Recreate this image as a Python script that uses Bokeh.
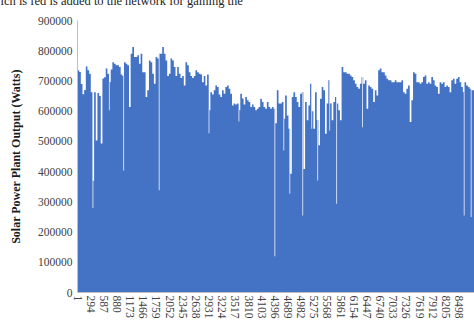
from bokeh.plotting import figure
from bokeh.models import Range1d, FixedTicker, NumeralTickFormatter, Label
from bokeh.embed import file_html
from bokeh.resources import INLINE

# Solar output, in kW (each value covers SEG_HOURS hours)
SEG_HOURS = 37
seg_values = [
    735, 730, 690, 656, 670, 748, 735, 724, 663, 370,
    663, 503, 660, 650, 493, 708, 712, 741, 724, 696,
    738, 762, 757, 752, 752, 746, 721, 716, 762, 757,
    752, 614, 790, 812, 779, 779, 785, 757, 790, 729,
    729, 647, 669, 768, 762, 724, 691, 779, 774, 790,
    790, 812, 790, 768, 716, 724, 774, 768, 746, 716,
    746, 724, 710, 716, 685, 762, 752, 729, 716, 710,
    716, 735, 729, 724, 721, 696, 716, 685, 721, 603,
    663, 655, 669, 685, 680, 655, 647, 669, 658, 680,
    685, 674, 658, 619, 625, 622, 625, 603, 658, 642,
    622, 647, 636, 630, 614, 622, 614, 603, 608, 614,
    641, 630, 614, 608, 630, 614, 608, 614, 608, 560,
    669, 625, 625, 630, 575, 652, 586, 542, 393, 647,
    663, 647, 630, 614, 658, 663, 409, 630, 570, 619,
    691, 600, 542, 663, 570, 487, 641, 680, 669, 525,
    625, 702, 625, 570, 630, 647, 625, 603, 570, 746,
    729, 729, 724, 724, 718, 713, 702, 691, 680, 674,
    691, 713, 691, 702, 608, 685, 680, 674, 630, 669,
    652, 735, 741, 729, 729, 718, 707, 702, 702, 696,
    696, 702, 696, 696, 696, 702, 663, 658, 674, 685,
    564, 636, 729, 724, 696, 696, 691, 696, 713, 718,
    691, 696, 691, 713, 702, 685, 680, 658, 696, 691,
    696, 680, 685, 680, 663, 702, 707, 691, 707, 713,
    696, 680, 663, 696, 685, 680, 674, 669, 669,
]
# single hours with low output (hour index, kW)
dip_hours = [344, 710, 1028, 1820, 2930, 3596, 4396, 4595, 4729, 5017, 5217, 5350, 5617, 5772, 6349, 8614, 8769]
dip_values = [280, 603, 404, 338, 527, 566, 120, 470, 327, 255, 542, 371, 536, 294, 547, 255, 250]

x_tick_labels = ["1", "294", "587", "880", "1173", "1466", "1759", "2052", "2345", "2638",
                 "2931", "3224", "3517", "3810", "4103", "4396", "4689", "4982", "5275", "5568",
                 "5861", "6154", "6447", "6740", "7033", "7326", "7619", "7912", "8205", "8498"]
y_ticks = [0, 100000, 200000, 300000, 400000, 500000, 600000, 700000, 800000, 900000]

BLUE = "#4472C4"
n = len(seg_values)
left = [0.5 + i * SEG_HOURS for i in range(n)]
top = [v * 1000 for v in seg_values]
step_x = left + [left[-1] + SEG_HOURS]
step_y = top + [top[-1]]

dip_top = []
for h in dip_hours:
    idx = min(int((h - 0.5) // SEG_HOURS), n - 1)
    dip_top.append(top[idx])

x_end = 0.5 + n * SEG_HOURS

p = figure(width=474, height=323, output_backend="svg", toolbar_location=None,
           x_range=Range1d(0.5, x_end), y_range=Range1d(0, 900000),
           min_border_left=77, min_border_right=0, min_border_top=20, min_border_bottom=31)
p.outline_line_color = None
p.xgrid.visible = False
p.ygrid.visible = False
p.background_fill_color = "white"
p.border_fill_color = "white"

p.varea_step(x=step_x, y1=0, y2=step_y, step_mode="after", fill_color=BLUE)
p.vbar(x=dip_hours, width=22, bottom=[v * 1000 for v in dip_values], top=dip_top,
       fill_color="white", fill_alpha=0.75, line_color=None)

serif = "Liberation Serif"
ya = p.yaxis[0]
ya.ticker = FixedTicker(ticks=y_ticks)
ya.formatter = NumeralTickFormatter(format="0")
ya.major_label_text_font = serif
ya.major_label_text_font_size = "11.5px"
ya.major_label_text_color = "#404040"
ya.major_tick_out = 0
ya.major_tick_in = 0
ya.minor_tick_out = 0
ya.minor_tick_in = 0
ya.major_label_standoff = 5
ya.axis_line_color = "#BFBFBF"
ya.axis_label = "Solar Power Plant Output (Watts)"
ya.axis_label_text_font = serif
ya.axis_label_text_font_style = "bold"
ya.axis_label_text_font_size = "12px"
ya.axis_label_text_color = "#1a1a1a"
ya.axis_label_standoff = 12

xa = p.xaxis[0]
xa.ticker = FixedTicker(ticks=[int(t) for t in x_tick_labels])
xa.formatter = NumeralTickFormatter(format="0")
xa.major_label_orientation = "vertical"
xa.major_label_text_font = serif
xa.major_label_text_font_size = "11.5px"
xa.major_label_text_color = "#404040"
xa.major_tick_out = 0
xa.major_tick_in = 0
xa.minor_tick_out = 0
xa.minor_tick_in = 0
xa.major_label_standoff = 3
xa.axis_line_color = "#BFBFBF"

p.title.visible = False
p.add_layout(Label(x=-77, y=20, x_units="screen", y_units="screen",
                   text="ich is fed is added to the network for gaining the",
                   text_baseline="alphabetic",
                   text_font=serif, text_font_size="12.5px", text_color="#222222"), "above")

open("out.html", "w").write(file_html(p, INLINE))
